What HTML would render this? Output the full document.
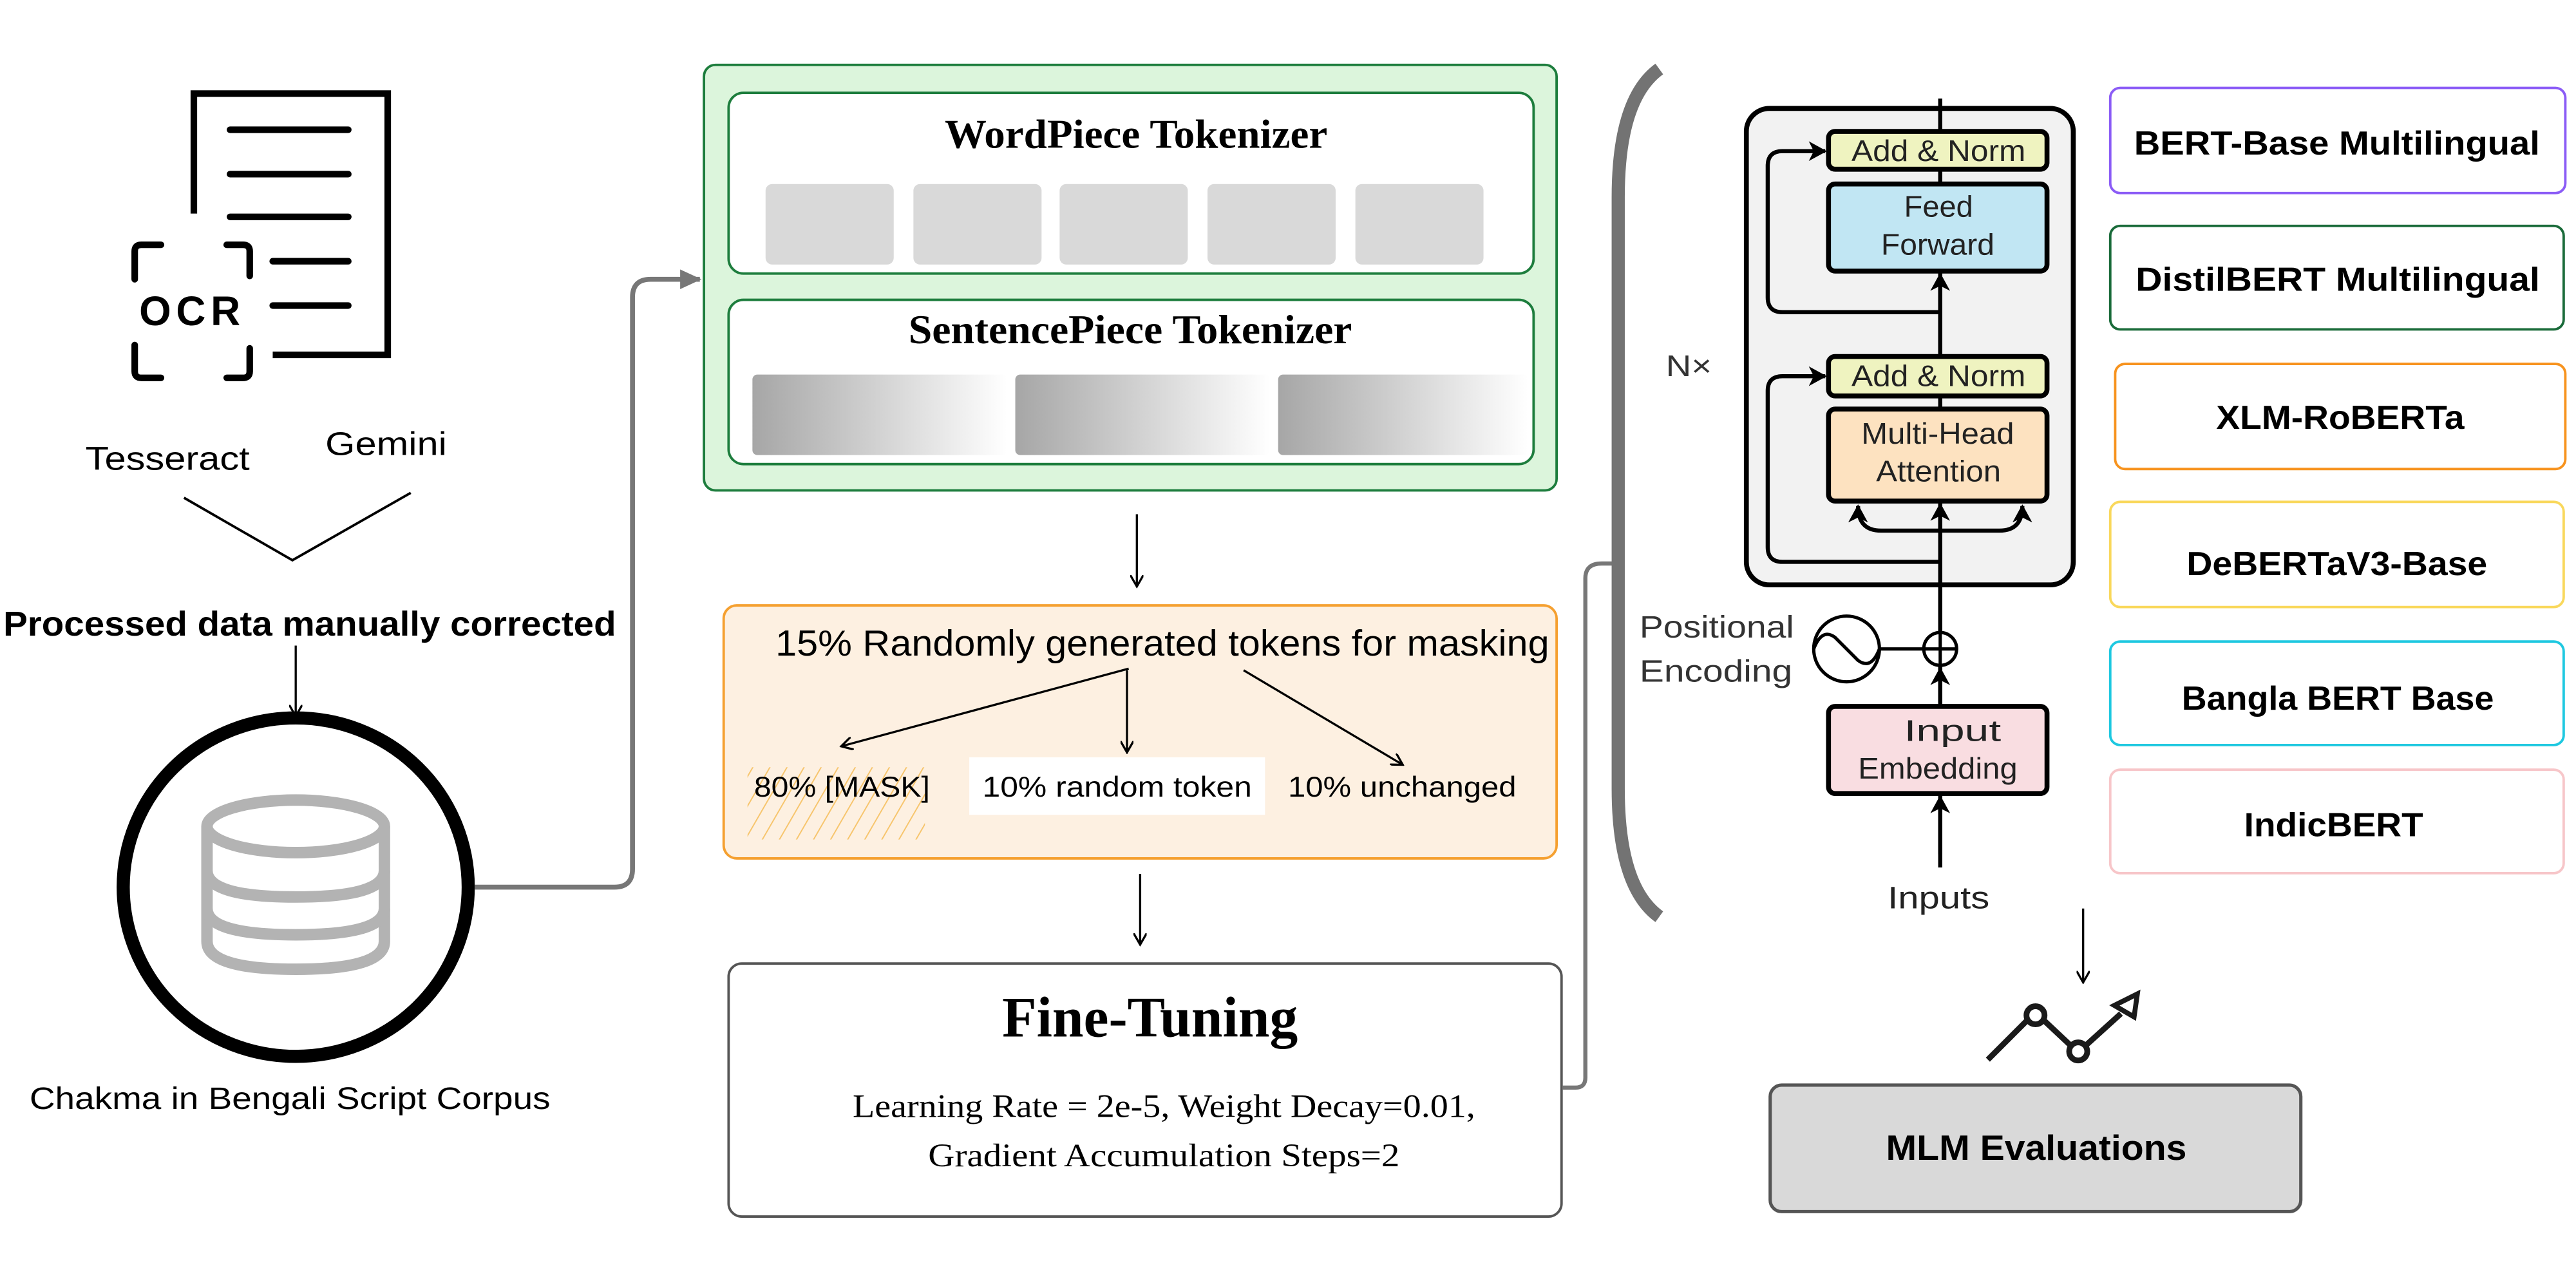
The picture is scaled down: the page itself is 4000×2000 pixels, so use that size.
<!DOCTYPE html>
<html><head><meta charset="utf-8"><style>
html,body{margin:0;padding:0;background:#fff;width:4000px;height:2000px;overflow:hidden}
svg{display:block}
text{font-family:"Liberation Sans",sans-serif}
.serif{font-family:"Liberation Serif",serif}
</style></head><body>
<svg width="4000" height="2000" viewBox="0 0 1568 784" preserveAspectRatio="none" xmlns="http://www.w3.org/2000/svg">
<defs>
<marker id="ah" markerWidth="8" markerHeight="8" refX="6" refY="4" orient="auto" markerUnits="userSpaceOnUse"><path d="M0,0 L7,4 L0,8" fill="none" stroke="#000" stroke-width="1.3"/></marker>
<marker id="ahg" markerWidth="14" markerHeight="12" refX="12" refY="6" orient="auto" markerUnits="userSpaceOnUse"><path d="M0,0 L13,6 L0,12 Z" fill="#777"/></marker>
<marker id="ahb" markerWidth="12" markerHeight="12" refX="10" refY="6" orient="auto" markerUnits="userSpaceOnUse"><path d="M0,0 L11,6 L0,12 L3,6 Z" fill="#000"/></marker>
<linearGradient id="gr" x1="0" x2="1" y1="0" y2="0"><stop offset="0" stop-color="#a6a6a6"/><stop offset="1" stop-color="#fff"/></linearGradient>
<pattern id="hatch" width="9" height="9" patternUnits="userSpaceOnUse" patternTransform="rotate(30)"><line x1="0" y1="0" x2="0" y2="9" stroke="#f7c46a" stroke-width="1.5"/></pattern>
</defs>

<!-- Document / OCR icon -->
<path d="M118,130 L118,57 L236,57 L236,216 L166,216" fill="none" stroke="#000" stroke-width="4"/>
<g stroke="#000" stroke-width="4" stroke-linecap="round">
<line x1="140" y1="79" x2="212" y2="79"/><line x1="140" y1="106" x2="212" y2="106"/><line x1="140" y1="132" x2="212" y2="132"/>
<line x1="166" y1="159" x2="212" y2="159"/><line x1="166" y1="186" x2="212" y2="186"/>
</g>
<g fill="none" stroke="#000" stroke-width="4" stroke-linecap="round">
<path d="M82,170 L82,153 Q82,149 86,149 L98,149"/>
<path d="M138,149 L148,149 Q152,149 152,153 L152,168"/>
<path d="M82,210 L82,226 Q82,230 86,230 L98,230"/>
<path d="M138,230 L148,230 Q152,230 152,226 L152,212"/>
</g>
<text x="117" y="198" font-size="25" font-weight="bold" text-anchor="middle" letter-spacing="3">OCR</text>
<text x="52" y="286" font-size="20" textLength="100" lengthAdjust="spacingAndGlyphs">Tesseract</text>
<text x="198" y="277" font-size="20" textLength="74" lengthAdjust="spacingAndGlyphs">Gemini</text>
<path d="M112,303 L178,341 L250,300" fill="none" stroke="#000" stroke-width="1.5"/>
<text x="2" y="387" font-size="21" font-weight="bold" textLength="373" lengthAdjust="spacingAndGlyphs">Processed data manually corrected</text>
<line x1="180" y1="393" x2="180" y2="435" stroke="#000" stroke-width="1.3" marker-end="url(#ah)"/>
<ellipse cx="180" cy="540" rx="105" ry="103" fill="none" stroke="#000" stroke-width="8"/>
<g fill="none" stroke="#b3b3b3" stroke-width="7">
<path d="M126,503 L126,573 Q126,590 180,590 Q234,590 234,573 L234,503"/>
<ellipse cx="180" cy="503" rx="54" ry="16"/>
<path d="M126,530 Q126,546 180,546 Q234,546 234,530"/>
<path d="M126,553 Q126,569 180,569 Q234,569 234,553"/>
</g>
<text x="18" y="675" font-size="19" textLength="317" lengthAdjust="spacingAndGlyphs">Chakma in Bengali Script Corpus</text>
<path d="M289,540 L374,540 Q385,540 385,529 L385,181 Q385,170 396,170 L426,170" fill="none" stroke="#777" stroke-width="3" marker-end="url(#ahg)"/>

<!-- Tokenizers -->
<rect x="428.5" y="39.5" width="519" height="259" rx="7" fill="#dcf5dc" stroke="#1d7d3d" stroke-width="1.5"/>
<rect x="443.5" y="56.5" width="490" height="110" rx="9" fill="#fff" stroke="#1d7d3d" stroke-width="1.5"/>
<rect x="443.5" y="182.5" width="490" height="100" rx="9" fill="#fff" stroke="#1d7d3d" stroke-width="1.5"/>
<text x="575" y="90" class="serif" font-size="25" font-weight="bold" textLength="233" lengthAdjust="spacingAndGlyphs">WordPiece Tokenizer</text>
<g fill="#d9d9d9">
<rect x="466" y="112" width="78" height="49" rx="4"/><rect x="556" y="112" width="78" height="49" rx="4"/>
<rect x="645" y="112" width="78" height="49" rx="4"/><rect x="735" y="112" width="78" height="49" rx="4"/>
<rect x="825" y="112" width="78" height="49" rx="4"/>
</g>
<text x="553" y="209" class="serif" font-size="25" font-weight="bold" textLength="270" lengthAdjust="spacingAndGlyphs">SentencePiece Tokenizer</text>
<rect x="458" y="228" width="155" height="49" rx="3" fill="url(#gr)"/>
<rect x="618" y="228" width="155" height="49" rx="3" fill="url(#gr)"/>
<rect x="778" y="228" width="152" height="49" rx="3" fill="url(#gr)"/>
<line x1="692" y1="313" x2="692" y2="356" stroke="#000" stroke-width="1.3" marker-end="url(#ah)"/>

<!-- Masking -->
<rect x="440.5" y="368.5" width="507" height="154" rx="8" fill="#fdf0e1" stroke="#f5a030" stroke-width="1.5"/>
<text x="472" y="399" font-size="22" textLength="471" lengthAdjust="spacingAndGlyphs">15% Randomly generated  tokens for masking</text>
<line x1="687" y1="407" x2="513" y2="454" stroke="#000" stroke-width="1.3" marker-end="url(#ah)"/>
<line x1="686" y1="408" x2="686" y2="457" stroke="#000" stroke-width="1.3" marker-end="url(#ah)"/>
<line x1="757" y1="408" x2="853" y2="465" stroke="#000" stroke-width="1.3" marker-end="url(#ah)"/>
<rect x="455" y="467" width="108" height="44" fill="url(#hatch)"/>
<rect x="590" y="461" width="180" height="35" fill="#fff"/>
<text x="459" y="485" font-size="17.5" textLength="107" lengthAdjust="spacingAndGlyphs">80% [MASK]</text>
<text x="598" y="485" font-size="17.5" textLength="164" lengthAdjust="spacingAndGlyphs">10% random token</text>
<text x="784" y="485" font-size="17.5" textLength="139" lengthAdjust="spacingAndGlyphs">10% unchanged</text>
<line x1="694" y1="532" x2="694" y2="574" stroke="#000" stroke-width="1.3" marker-end="url(#ah)"/>

<!-- Fine tuning -->
<rect x="443.5" y="586.5" width="507" height="154" rx="8" fill="#fff" stroke="#555" stroke-width="1.5"/>
<text x="610" y="631" class="serif" font-size="35" font-weight="bold" textLength="180" lengthAdjust="spacingAndGlyphs">Fine-Tuning</text>
<text x="519" y="680" class="serif" font-size="20" textLength="379" lengthAdjust="spacingAndGlyphs">Learning Rate = 2e-5, Weight Decay=0.01,</text>
<text x="565" y="710" class="serif" font-size="20" textLength="287" lengthAdjust="spacingAndGlyphs">Gradient Accumulation Steps=2</text>
<path d="M951,662 L959,662 Q965,662 965,656 L965,352 Q965,343 975,343 L985,343" fill="none" stroke="#777" stroke-width="2.5"/>
<path d="M1010,42 Q985,60 985,120 L985,480 Q985,540 1010,558" fill="none" stroke="#737373" stroke-width="8"/>

<!-- Transformer -->
<rect x="1063" y="66" width="199" height="290" rx="14" fill="#f2f2f2" stroke="#000" stroke-width="3"/>
<line x1="1181" y1="520" x2="1181" y2="60" stroke="#000" stroke-width="2.5"/>
<path d="M1181,190 L1085,190 Q1076,190 1076,181 L1076,101 Q1076,92 1085,92 L1111,92" fill="none" stroke="#000" stroke-width="2.5" marker-end="url(#ahb)"/>
<path d="M1181,342 L1085,342 Q1076,342 1076,333 L1076,238 Q1076,229 1085,229 L1111,229" fill="none" stroke="#000" stroke-width="2.5" marker-end="url(#ahb)"/>
<path d="M1181,323 L1145,323 Q1131,323 1131,308" fill="none" stroke="#000" stroke-width="2.5" marker-end="url(#ahb)"/>
<path d="M1181,323 L1217,323 Q1231,323 1231,308" fill="none" stroke="#000" stroke-width="2.5" marker-end="url(#ahb)"/>
<line x1="1181" y1="323" x2="1181" y2="307" stroke="#000" stroke-width="2.5" marker-end="url(#ahb)"/>
<line x1="1181" y1="215" x2="1181" y2="167" stroke="#000" stroke-width="2.5" marker-end="url(#ahb)"/>
<line x1="1181" y1="428" x2="1181" y2="407" stroke="#000" stroke-width="2.5" marker-end="url(#ahb)"/>
<line x1="1181" y1="528" x2="1181" y2="485" stroke="#000" stroke-width="2.5" marker-end="url(#ahb)"/>
<rect x="1113" y="80" width="133" height="23" rx="4" fill="#eff3c0" stroke="#000" stroke-width="3"/>
<rect x="1113" y="112" width="133" height="53" rx="4" fill="#c1e6f3" stroke="#000" stroke-width="3"/>
<rect x="1113" y="217" width="133" height="24" rx="4" fill="#eff3c0" stroke="#000" stroke-width="3"/>
<rect x="1113" y="249" width="133" height="56" rx="4" fill="#fde2c0" stroke="#000" stroke-width="3"/>
<rect x="1113" y="430" width="133" height="53" rx="4" fill="#f9dde1" stroke="#000" stroke-width="3"/>
<g font-size="18" fill="#222">
<text x="1127" y="98" textLength="106" lengthAdjust="spacingAndGlyphs">Add &amp; Norm</text>
<text x="1159" y="132" textLength="42" lengthAdjust="spacingAndGlyphs">Feed</text><text x="1145" y="155" textLength="69" lengthAdjust="spacingAndGlyphs">Forward</text>
<text x="1127" y="235" textLength="106" lengthAdjust="spacingAndGlyphs">Add &amp; Norm</text>
<text x="1133" y="270" textLength="93" lengthAdjust="spacingAndGlyphs">Multi-Head</text><text x="1142" y="293" textLength="76" lengthAdjust="spacingAndGlyphs">Attention</text>
<text x="1159" y="451" textLength="59" lengthAdjust="spacingAndGlyphs">Input</text><text x="1131" y="474" textLength="97" lengthAdjust="spacingAndGlyphs">Embedding</text>
<text x="1149" y="553" font-size="19" textLength="62" lengthAdjust="spacingAndGlyphs">Inputs</text>
</g>
<circle cx="1181" cy="395" r="10" fill="#fff" stroke="#000" stroke-width="2"/>
<path d="M1171,395 L1191,395 M1181,385 L1181,405" stroke="#000" stroke-width="2"/>
<line x1="1144" y1="395" x2="1171" y2="395" stroke="#000" stroke-width="2"/>
<circle cx="1124" cy="395" r="20" fill="#fff" stroke="#000" stroke-width="2"/>
<path d="M1104,395 Q1109,382 1117,388 Q1124,395 1131,402 Q1139,408 1144,395" fill="none" stroke="#000" stroke-width="2"/>
<text x="1014" y="229" font-size="18" fill="#333" textLength="28" lengthAdjust="spacingAndGlyphs">N×</text>
<text x="998" y="388" font-size="19" fill="#333" textLength="94" lengthAdjust="spacingAndGlyphs">Positional</text>
<text x="998" y="415" font-size="19" fill="#333" textLength="93" lengthAdjust="spacingAndGlyphs">Encoding</text>

<!-- Models -->
<g fill="#fff" stroke-width="1.5">
<rect x="1284.5" y="53.5" width="277" height="64" rx="6" stroke="#8b5cf6"/>
<rect x="1284.5" y="137.5" width="276" height="63" rx="6" stroke="#1a6b3a"/>
<rect x="1287.5" y="221.5" width="274" height="64" rx="6" stroke="#f7931e"/>
<rect x="1284.5" y="305.5" width="276" height="64" rx="6" stroke="#f9d85c"/>
<rect x="1284.5" y="390.5" width="276" height="63" rx="6" stroke="#1ec8e0"/>
<rect x="1284.5" y="468.5" width="276" height="63" rx="6" stroke="#f7c6c9"/>
</g>
<g font-size="20.5" font-weight="bold">
<text x="1299" y="94" textLength="247" lengthAdjust="spacingAndGlyphs">BERT-Base Multilingual</text>
<text x="1300" y="177" textLength="246" lengthAdjust="spacingAndGlyphs">DistilBERT Multilingual</text>
<text x="1349" y="261" textLength="151" lengthAdjust="spacingAndGlyphs">XLM-RoBERTa</text>
<text x="1331" y="350" textLength="183" lengthAdjust="spacingAndGlyphs">DeBERTaV3-Base</text>
<text x="1328" y="432" textLength="190" lengthAdjust="spacingAndGlyphs">Bangla BERT Base</text>
<text x="1366" y="509" textLength="109" lengthAdjust="spacingAndGlyphs">IndicBERT</text>
</g>
<line x1="1268" y1="553" x2="1268" y2="597" stroke="#000" stroke-width="1.3" marker-end="url(#ah)"/>
<g fill="none" stroke="#1a1a1a" stroke-width="3.5">
<path d="M1210,645 L1234,621 M1244,621 L1260,636 M1270,636 L1291,617"/>
<circle cx="1239" cy="618" r="5.5" fill="#fff"/>
<circle cx="1265" cy="640" r="5.5" fill="#fff"/>
<path d="M1287,612 L1301,605 L1299,619 Z" stroke-width="3"/>
</g>
<rect x="1077.5" y="660.5" width="323" height="77" rx="7" fill="#d9d9d9" stroke="#555" stroke-width="2"/>
<text x="1148" y="706" font-size="21.5" font-weight="bold" textLength="183" lengthAdjust="spacingAndGlyphs">MLM Evaluations</text>
</svg>
</body></html>
